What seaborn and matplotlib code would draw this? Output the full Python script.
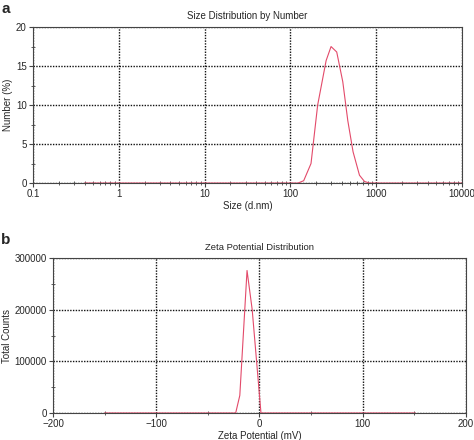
import numpy as np
import pandas as pd
import matplotlib
matplotlib.use("Agg")
import matplotlib.pyplot as plt
from matplotlib.ticker import LogLocator, MultipleLocator, NullFormatter
import seaborn as sns

# size distribution (panel a)
size_nm = [0.4, 1, 10, 100, 123, 143, 174, 208, 261, 298, 347, 408, 467, 538, 639, 731, 836, 1000, 10000]
number_pct = [0, 0, 0, 0, 0, 0.3, 2.5, 10.0, 15.7, 17.5, 16.8, 13.0, 8.0, 4.0, 1.0, 0.2, 0, 0, 0]

# zeta potential (panel b)
zeta_mv = [-150, -100, -50, -23, -19, -12, -7, 1.5, 50, 100, 151]
counts = [0, 0, 0, 0, 34000, 276000, 200000, 0, 0, 0, 0]

df_a = pd.DataFrame({"size": size_nm, "number": number_pct})
df_b = pd.DataFrame({"zeta": zeta_mv, "counts": counts})

sns.set_style("white")
plt.rcParams["font.family"] = ["Liberation Sans", "DejaVu Sans"]

fig = plt.figure(figsize=(4.74, 4.40), dpi=100)
ax1 = fig.add_axes([0.0696, 0.584, 0.905, 0.3545])
ax2 = fig.add_axes([0.1118, 0.0614, 0.871, 0.352])

line_col = "#e34a6a"
grid_kw = dict(color="#111111", linestyle=(0, (1, 1)), linewidth=1.0)

# panel a
sns.lineplot(data=df_a, x="size", y="number", ax=ax1, color=line_col, linewidth=0.8)
ax1.set_xscale("log")
ax1.set_xlim(0.1, 10000)
ax1.set_ylim(0, 20)
ax1.xaxis.set_minor_locator(LogLocator(base=10, subs=np.arange(2, 10), numticks=20))
ax1.xaxis.set_minor_formatter(NullFormatter())
ax1.set_xticks([0.1, 1, 10, 100, 1000, 10000])
ax1.set_xticklabels(["0.1", "1", "10", "100", "1000", "10000"])
ax1.yaxis.set_major_locator(MultipleLocator(5))
ax1.yaxis.set_minor_locator(MultipleLocator(2.5))
ax1.set_title("Size Distribution by Number", fontsize=7, pad=6)
ax1.set_xlabel("Size (d.nm)", fontsize=7, labelpad=1)
ax1.set_ylabel("Number (%)", fontsize=7, labelpad=2)

# panel b
sns.lineplot(data=df_b, x="zeta", y="counts", ax=ax2, color=line_col, linewidth=0.8)
ax2.set_xlim(-200, 200)
ax2.set_ylim(0, 300000)
ax2.xaxis.set_major_locator(MultipleLocator(100))
ax2.xaxis.set_minor_locator(MultipleLocator(50))
ax2.yaxis.set_major_locator(MultipleLocator(100000))
ax2.yaxis.set_minor_locator(MultipleLocator(50000))
ax2.set_title("Zeta Potential Distribution", fontsize=6.8, pad=6)
ax2.set_xlabel("Zeta Potential (mV)", fontsize=7, labelpad=1)
ax2.set_ylabel("Total Counts", fontsize=7, labelpad=2)

for ax in (ax1, ax2):
    ax.grid(True, which="major", **grid_kw)
    ax.set_axisbelow(True)
    for s in ax.spines.values():
        s.set_color("#444444")
        s.set_linewidth(0.8)
    ax.tick_params(which="major", direction="out", length=3, width=0.8, color="#444444",
                   labelsize=7, pad=1.5, bottom=True, left=True)
    ax.tick_params(which="minor", direction="inout", length=3, width=0.6, color="#444444",
                   bottom=True, left=True)

fig.text(0.003, 0.995, "a", fontsize=11, fontweight="bold", va="top", ha="left")
fig.text(0.003, 0.47, "b", fontsize=11, fontweight="bold", va="top", ha="left")

fig.savefig("out.png", dpi=100)
